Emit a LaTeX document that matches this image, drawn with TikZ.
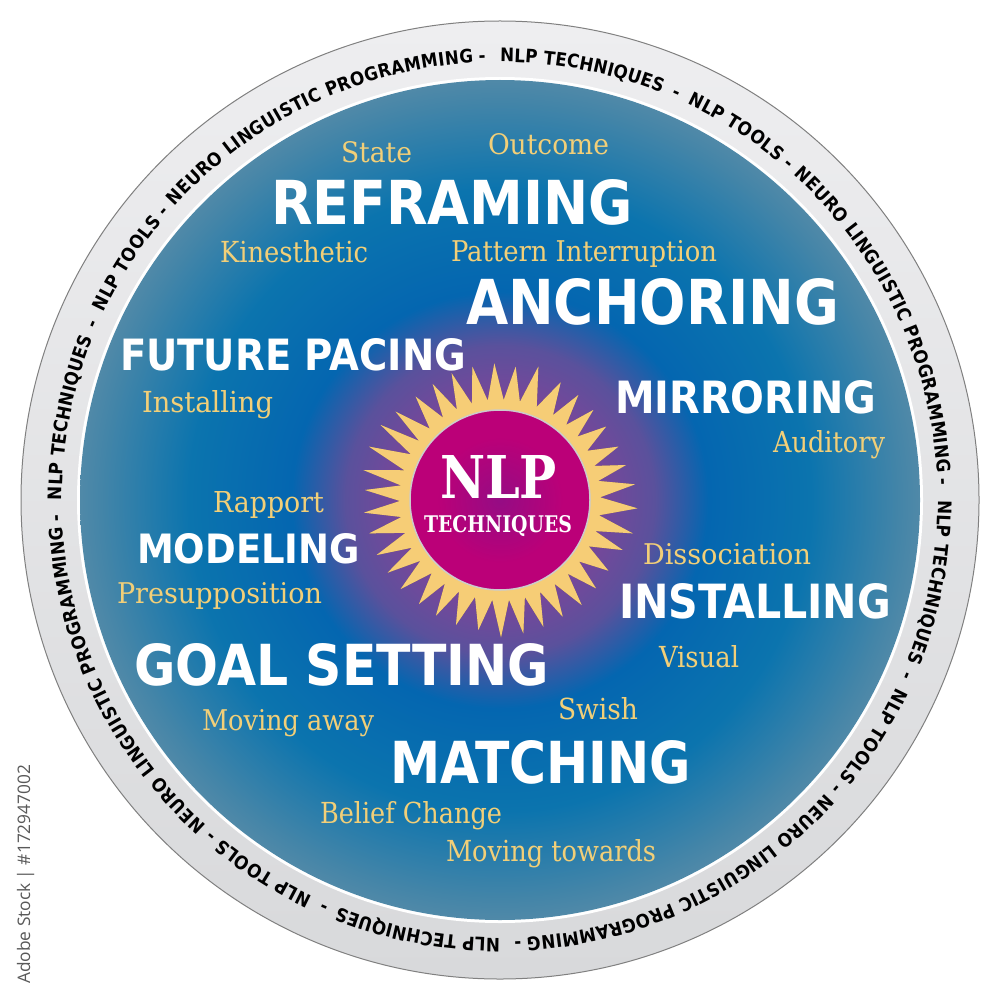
\documentclass[tikz,border=0pt]{standalone}
\usepackage{fontspec}
\usepackage{graphicx}
\usetikzlibrary{decorations.text,calc}
\newfontfamily\bigf{DejaVu Sans}
\newfontfamily\ringfam{DejaVu Sans Condensed}
\newfontfamily\smallf{DejaVu Serif Condensed}
\newfontfamily\centref{DejaVu Serif Condensed}
\newfontfamily\stockf{Open Sans}
\definecolor{d0}{HTML}{8A3F96}
\definecolor{d1}{HTML}{74489A}
\definecolor{d2}{HTML}{5A519C}
\definecolor{d3}{HTML}{0466B0}
\definecolor{d4}{HTML}{0B74AE}
\definecolor{d5}{HTML}{4485A8}
\definecolor{d6}{HTML}{5089A8}
\definecolor{m0}{HTML}{950C84}
\definecolor{m1}{HTML}{BB0078}
\definecolor{gold}{HTML}{F6CD76}
\definecolor{goldedge}{HTML}{A68644}
\definecolor{softyellow}{HTML}{F2CF78}
\definecolor{ringtop}{HTML}{EEEEF0}
\definecolor{ringbot}{HTML}{D8D9DB}
\pgfdeclareradialshading{discshade}{\pgfpointorigin}{color(0bp)=(d0);color(6.5bp)=(d1);color(9.2bp)=(d2);color(12.4bp)=(d3);color(18.5bp)=(d4);color(23.8bp)=(d5);color(25bp)=(d6);color(50bp)=(d6)}
\pgfdeclareradialshading{centreshade}{\pgfpointorigin}{color(0bp)=(m0);color(17.5bp)=(m1);color(50bp)=(m1)}
\newcommand\ringstyle{\ringfam\bfseries\fontsize{18.6}{18.6}\selectfont}
\newcommand\ringarc[3]{\path[decorate,decoration={text along path,text={|\ringstyle|#3},text align={fit to path}}] ({90-(#1)}:438pt) arc[start angle={90-(#1)},end angle={90-(#2)},radius=438pt];}
\tikzset{
 word/.style={anchor=base west,inner sep=0pt,outer sep=0pt,text=white},
 minor/.style={anchor=base west,inner sep=0pt,outer sep=0pt,text=softyellow},
 dashmark/.style={anchor=base,inner sep=0pt,outer sep=0pt,font=\ringstyle},
}
\begin{document}
\begin{tikzpicture}[x=1pt,y=-1pt]
\useasboundingbox (0,0) rectangle (1000,1000);
\fill[white] (0,0) rectangle (1000,1000);
\coordinate (c) at (500,500);
% ring
\shadedraw[top color=ringtop,bottom color=ringbot,draw=black!50,line width=1pt] (c) circle[radius=479pt];
\fill[white] (c) circle[radius=423pt];
\shade[shading=discshade] (c) circle[radius=420pt];
% ring text
\begin{scope}[shift={(c)},y=1pt]
\foreach \o in {0,90,180,270}{
 \ringarc{\o-47.9}{\o-3.5}{NEURO LINGUISTIC PROGRAMMING}
 \ringarc{\o+0}{\o+21.6}{NLP TECHNIQUES}
 \ringarc{\o+25.3}{\o+39.4}{NLP TOOLS}
 \foreach \d [count=\k] in {-2.3,23.4,40.7}{
  \node[dashmark,rotate={-(\o+\d)}] (dash\o-\k) at ({90-(\o+\d)}:438pt) {-};
 }
}
\end{scope}
% sun
\foreach \zx/\zy [count=\i] in {433/40,497/50,565/50,632/97,685/135,730/180,768/230,805/290,828/345,855/403,862/475,848/550,818/600,775/662,738/715,695/765,638/800,580/830,520/850,453/862,385/840,318/825,258/797,207/762,152/717,113/668,80/615,58/550,42/488,45/420,40/360,57/290,92/225,137/185,197/140,248/102,305/70,367/50}{
 \coordinate (t\i) at ({350+\zx/3},{350+\zy/3});
}
\fill[goldedge,xshift=1pt,yshift=-1pt] (t1) \foreach \i [evaluate=\i as \j using {int(mod(\i,38)+1)}] in {1,...,38}{ -- ($(c)!100pt!($(t\i)!.5!(t\j)$)$) -- (t\j) } -- cycle;
\fill[gold] (t1) \foreach \i [evaluate=\i as \j using {int(mod(\i,38)+1)}] in {1,...,38}{ -- ($(c)!100pt!($(t\i)!.5!(t\j)$)$) -- (t\j) } -- cycle;
% centre disc
\shade[shading=centreshade] (c) circle[radius=90pt];
\draw[black!20,line width=1.5pt] (c) circle[radius=90pt];
\node[word] (nlp) at (440,498) {\resizebox{117pt}{43pt}{\centref\bfseries NLP}};
\node[word] (tech) at (424,532) {\resizebox{148pt}{17pt}{\centref\bfseries TECHNIQUES}};
% main words
\foreach \n/\l/\r/\b/\h/\t in {
 reframing/271/633/225/45/REFRAMING,
 anchoring/466/839/324/46/ANCHORING,
 future/120/466/370/32/FUTURE PACING,
 mirroring/615/876/413/33/MIRRORING,
 modeling/137/360/563/30/MODELING,
 goal/134/549/685/42/GOAL SETTING,
 installing/619/891/618/35/INSTALLING,
 matching/390/691/783/43/MATCHING}{
 \pgfmathsetmacro\w{\r-\l}
 \node[word] (\n) at (\l,\b) {\resizebox{\w pt}{\h pt}{\bigf\bfseries \t}};
}
% minor words
\foreach \n/\l/\r/\b/\h/\t in {
 state/341/412/163/21/State,
 outcome/488/609/155/21/Outcome,
 kines/220/368/262/22/Kinesthetic,
 pattern/451/717/261/21/Pattern Interruption,
 inst/142/273/412/22/Installing,
 aud/773/885/452/22/Auditory,
 rapport/213/324/512/21/Rapport,
 presup/117/322/603/21/Presupposition,
 dissoc/643/811/564/21/Dissociation,
 visual/659/739/667/22/Visual,
 swish/558/638/719/22/Swish,
 away/202/374/730/21/Moving away,
 belief/320/502/823/22/Belief Change,
 towards/446/656/861/22/Moving towards}{
 \pgfmathsetmacro\w{\r-\l}
 \node[minor] (\n) at (\l,\b) {\resizebox{\w pt}{\h pt}{\smallf \t}};
}
% credit
\node[anchor=base west,inner sep=0pt,rotate=90,text=black!65] (credit) at (30,984) {\resizebox{219pt}{!}{\stockf Adobe Stock | \#172947002}};
\end{tikzpicture}
\end{document}
